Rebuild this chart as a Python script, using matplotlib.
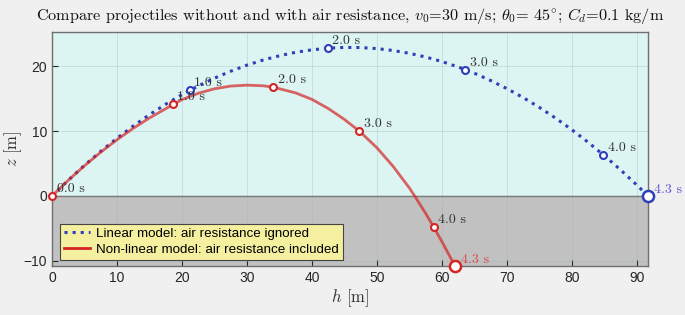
import matplotlib
matplotlib.use('Agg')
import matplotlib.pyplot as plt
import numpy as np

plt.rcParams['mathtext.fontset'] = 'cm'
plt.rcParams['font.family'] = ['Liberation Sans', 'DejaVu Sans']

## Linear model (no air resistance)
lin_h = [0, 2.5, 5, 7.5, 10, 12.5, 15, 17.5, 20, 22.5, 25, 27.5, 30, 32.5, 35, 37.5, 40,
         42.5, 45, 47.5, 50, 52.5, 55, 57.5, 60, 62.5, 65, 67.5, 70, 72.5, 75, 77.5, 80,
         82.5, 85, 87.5, 90, 91.7]
lin_z = [0, 2.43, 4.73, 6.89, 8.91, 10.8, 12.55, 14.16, 15.64, 16.98, 18.18, 19.25, 20.19,
         20.98, 21.64, 22.17, 22.55, 22.8, 22.92, 22.9, 22.74, 22.44, 22.01, 21.44, 20.74,
         19.9, 18.93, 17.81, 16.56, 15.18, 13.66, 12.0, 10.21, 8.28, 6.21, 4.01, 1.67, 0]

## Non-linear model (air resistance included)
nl_h = [0, 2.5, 5, 7.5, 10, 12.5, 15, 17.5, 18.6, 20, 22.5, 25, 27.5, 30, 32.5, 34, 37.5,
        40, 42.5, 45, 47.3, 50, 52.5, 55, 55.8, 57.5, 58.7, 60, 62]
nl_z = [0, 2.42, 4.67, 6.76, 8.68, 10.44, 12.04, 13.47, 14.1, 14.87, 15.85, 16.54, 16.96,
        17.1, 17.0, 16.8, 15.9, 14.9, 13.5, 11.8, 10.0, 7.43, 4.55, 1.22, 0, -2.7, -4.74,
        -7.05, -10.8]

## Time markers
lin_t_labels = ['1.0 s', '2.0 s', '3.0 s', '4.0 s']
lin_t_h = [21.2, 42.4, 63.6, 84.8]
lin_t_z = [16.3, 22.8, 19.5, 6.4]
lin_end = (91.7, 0.0)

nl_t_labels = ['0.0 s', '1.0 s', '2.0 s', '3.0 s', '4.0 s']
nl_t_h = [0, 18.6, 34.0, 47.3, 58.7]
nl_t_z = [0, 14.2, 16.8, 10.0, -4.8]
nl_end = (62.0, -10.8)
end_label = '4.3 s'

blue = '#2f3fb8'
red = '#d42424'
serif = 'cmr10'

fig = plt.figure(figsize=(6.85, 3.15), dpi=100)
fig.patch.set_facecolor('#f0f0f0')
ax = fig.add_axes([52/685, 49/315, 596/685, 234/315])
ax.set_facecolor('#dcf5f2')

xmin, xmax = 0, 91.7
ymin, ymax = -10.8, 25.3
ax.axhspan(ymin, 0, color='#c1c1c1', zorder=0)
ax.set_axisbelow(True)
ax.grid(True, color='#9bb8b8', alpha=0.35, linewidth=0.7)

ax.plot(lin_h, lin_z, ':', color=blue, linewidth=2.2, zorder=3,
        label='Linear model: air resistance ignored')
ax.plot(nl_h, nl_z, '-', color=red, alpha=0.7, linewidth=2.0, zorder=3,
        label='Non-linear model: air resistance included')

mtxt = dict(fontsize=10, color='#333333', zorder=6, family=serif)
ax.plot(lin_t_h, lin_t_z, 'o', mfc='white', mec=blue, mew=1.5, ms=5, zorder=4)
for lab, hh, zz in zip(lin_t_labels, lin_t_h, lin_t_z):
    ax.text(hh + 0.7, zz + 0.6, lab, **mtxt)
ax.plot(nl_t_h, nl_t_z, 'o', mfc='white', mec=red, mew=1.5, ms=5, zorder=4, clip_on=False)
for lab, hh, zz in zip(nl_t_labels, nl_t_h, nl_t_z):
    ax.text(hh + 0.7, zz + 0.6, lab, **mtxt)

ax.plot([lin_end[0]], [lin_end[1]], 'o', mfc='white', mec=blue, mew=1.8, ms=8,
        zorder=5, clip_on=False)
ax.text(lin_end[0] + 0.9, lin_end[1] + 0.5, end_label, fontsize=10, family=serif,
        color='#5a5ad0', zorder=6, clip_on=False)
ax.plot([nl_end[0]], [nl_end[1]], 'o', mfc='white', mec=red, mew=1.8, ms=8,
        zorder=5, clip_on=False)
ax.text(nl_end[0] + 0.9, nl_end[1] + 0.5, end_label, fontsize=10, family=serif,
        color='#e04848', zorder=6)

ax.set_xlim(xmin, xmax)
ax.set_ylim(ymin, ymax)
ax.set_xticks(np.arange(0, 91, 10))
ax.set_yticks([-10, 0, 10, 20])
ax.tick_params(direction='in', length=4, labelsize=10, colors='#262626',
               top=False, right=False)
for sp in ax.spines.values():
    sp.set_color('#6f6f6f')
    sp.set_linewidth(1.0)
ax.axhline(0, color='#7a7a7a', linewidth=1.0, zorder=2)

ax.set_xlabel(r'$h$ [m]', fontsize=12, color='#333333', labelpad=2, family=serif)
ax.set_ylabel(r'$z$ [m]', fontsize=12, color='#333333', labelpad=0, family=serif)
ax.set_title(r'Compare projectiles without and with air resistance, '
             r'$v_0$=30 m/s; $\theta_0$= 45$^{\circ}$; $C_d$=0.1 kg/m',
             fontsize=11.7, color='#111111', pad=9, family=serif)

leg = ax.legend(loc='lower left', bbox_to_anchor=(0.013, 0.025), borderaxespad=0,
                fontsize=9.6, facecolor='#f5f0a0', edgecolor='#444444', framealpha=1.0,
                fancybox=False, borderpad=0.3, labelspacing=0.28, handlelength=2.0,
                handletextpad=0.45)
leg.get_frame().set_linewidth(0.8)
for line in leg.get_lines():
    line.set_alpha(1.0)
leg.set_zorder(7)

plt.savefig('out.png', dpi=100, facecolor=fig.get_facecolor())
